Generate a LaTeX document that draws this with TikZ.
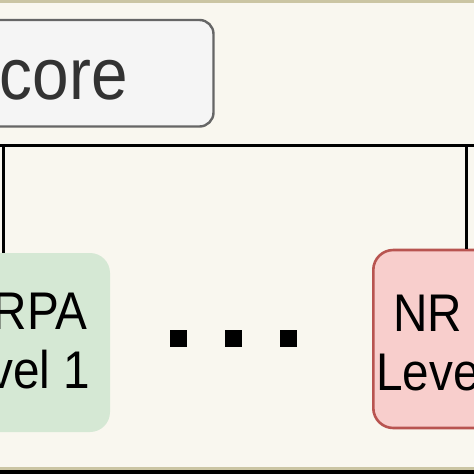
\documentclass[tikz,border=0pt]{standalone}
\usepackage{fontspec}
\setmainfont{Liberation Sans}[FakeStretch=0.9]
\usepackage{xcolor}
\usetikzlibrary{positioning}
\definecolor{bgcream}{HTML}{F9F7EF}
\definecolor{frametan}{HTML}{CBC5A3}
\definecolor{coregray}{HTML}{F5F5F5}
\definecolor{corestroke}{HTML}{666666}
\definecolor{lvlgreen}{HTML}{D5E8D4}
\definecolor{lvlred}{HTML}{F8CECC}
\definecolor{lvlredstroke}{HTML}{B85450}

\begin{document}
\begin{tikzpicture}[
  x=1pt, y=-1pt,
  box/.style={rectangle, inner sep=0pt, minimum width=#1},
  corebox/.style={box=313.5pt, minimum height=106.5pt, rounded corners=14pt,
    draw=corestroke, line width=2.4pt, fill=coregray},
  levelbox/.style={box=210pt, minimum height=179pt, rounded corners=20pt},
  lvltext/.style={inner sep=0pt, align=center, anchor=north,
    font=\fontsize{53}{59}\selectfont},
  dotsq/.style={rectangle, fill=black, inner sep=0pt, minimum size=17pt},
  link/.style={line width=3pt, black},
  node distance=38pt,
]
  \useasboundingbox (0,0) rectangle (474,474);
  \clip (0,0) rectangle (474,474);
  % page and frame
  \fill[bgcream] (0,0) rectangle (474,474);
  \fill[frametan] (0,0) rectangle (474,3);
  \fill[frametan] (0,466.5) rectangle (474,469.5);
  \fill[black] (0,469.5) rectangle (474,474);

  \node[corebox] (core) at (56.75,73.25) {};
  \node[anchor=base east, inner sep=0pt, text=corestroke!50!black,
    font=\fontsize{73}{80}\selectfont] (coretxt) at (128,99) {core};

  \node[levelbox, fill=lvlgreen] (rpa) at (5,342.5) {};
  \node[lvltext] (rpatxt) at (40,293) {RPA\\vel 1};

  \node[levelbox, minimum width=206.7pt, minimum height=178pt,
    draw=lvlredstroke, line width=2.6pt, fill=lvlred] (nr) at (476.65,339) {};
  \node[lvltext] (nrtxt) at (428,295) {NR\\Leve};

  % bus to the levels
  \coordinate (busL) at (-20,145);
  \coordinate (busR) at (494,145);
  \coordinate (stemL) at (3.5,145);
  \coordinate (stemR) at (466.7,145);
  \draw[link] (busL) -- (busR);
  \draw[link] (stemL) -- (stemL |- rpa.north);
  \draw[link] (stemR) -- (stemR |- nr.north);

  \node[dotsq] (dot2) at (233.5,338.5) {};
  \node[dotsq, left=of dot2] (dot1) {};
  \node[dotsq, right=of dot2] (dot3) {};
\end{tikzpicture}
\end{document}
